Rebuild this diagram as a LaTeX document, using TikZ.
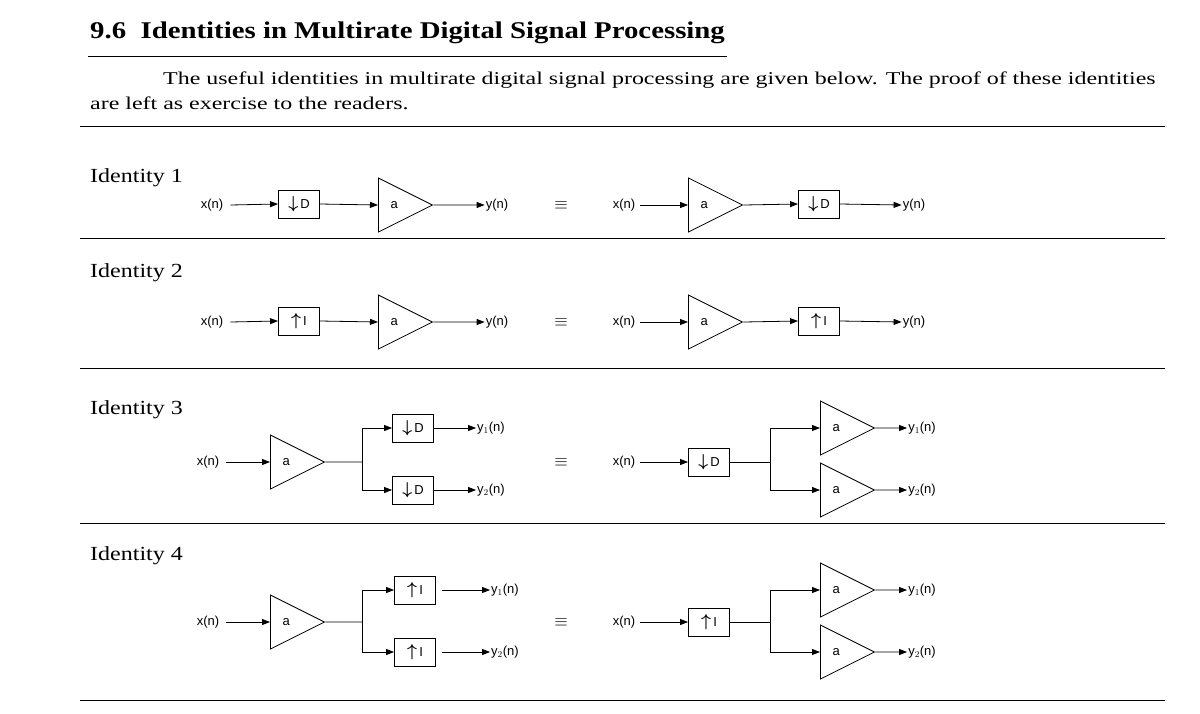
\documentclass[tikz,border=0pt]{standalone}
\usepackage{fontspec}
\setmainfont{Liberation Serif}
\setsansfont{Liberation Sans}
\usepackage{graphicx}
\usetikzlibrary{arrows.meta,shapes.geometric}
\newcommand{\dlab}{\sffamily\fontsize{13}{15}\selectfont}
\newcommand{\dn}{{\fontsize{17}{17}\selectfont$\boldsymbol{\downarrow}$}\,D}
\newcommand{\up}{{\fontsize{17}{17}\selectfont$\boldsymbol{\uparrow}$}\,I}
\usepackage{amsmath,bm}
\begin{document}
\begin{tikzpicture}[x=1pt,y=-1pt,
  blk/.style={draw,line width=0.9pt,minimum width=41,minimum height=28,inner sep=0,font=\dlab},
  amp/.style={draw,line width=0.8pt,isosceles triangle,isosceles triangle stretches,minimum width=54,minimum height=54,inner sep=0,anchor=west,font=\dlab},
  sig/.style={line width=0.8pt,-{Triangle[length=8pt,width=6pt]}},
  wire/.style={line width=0.8pt},
  lab/.style={font=\dlab,inner sep=1pt},
  idt/.style={font=\fontsize{20}{22}\selectfont,anchor=west,inner sep=0},
  rule/.style={line width=0.9pt},
  eqv/.style={font=\fontsize{16}{16}\selectfont}]
\useasboundingbox (0,0) rectangle (1200,713);
\node[anchor=west,inner sep=0,font=\fontsize{24}{26}\selectfont\bfseries] (title) at (90,33) {\scalebox{1.2}[1]{9.6\ \ Identities in Multirate Digital Signal Processing}};
\draw[rule] (88,56) -- (727,56);
\node[anchor=west,inner sep=0,font=\fontsize{18}{20}\selectfont] (p1) at (163,80) {\scalebox{1.33}[1]{The useful identities in multirate digital signal processing are given below. The proof of these identities}};
\node[anchor=west,inner sep=0,font=\fontsize{18}{20}\selectfont] (p2) at (90,103) {\scalebox{1.33}[1]{are left as exercise to the readers.}};
\draw[rule] (80,126) -- (1165,126);
\draw[rule] (80,238) -- (1165,238);
\draw[rule] (80,368) -- (1165,368);
\draw[rule] (80,523) -- (1165,523);
\draw[rule] (80,700) -- (1165,700);
\node[idt] (i1) at (90,178) {\scalebox{1.2}[1]{Identity 1}};
\node[idt] (i2) at (90,273) {\scalebox{1.2}[1]{Identity 2}};
\node[idt] (i3) at (90,410) {\scalebox{1.2}[1]{Identity 3}};
\node[idt] (i4) at (90,556) {\scalebox{1.2}[1]{Identity 4}};
% Identity 1
\node[lab] (x1) at (212,205) {x(n)};
\node[blk] (b1) at (299,204) {\dn};
\node[amp] (a1) at (378,205) {a};
\node[lab] (y1) at (497,205) {y(n)};
\draw[sig] (x1.east)++(6,0) -- (b1.west);
\draw[sig] (b1.east) -- (a1.west);
\draw[sig] (a1.apex) -- (y1.west);
\node[eqv] (e1) at (561,205) {$\equiv$};
\node[lab] (x1r) at (624,205) {x(n)};
\node[amp] (a1r) at (688,205) {a};
\node[blk] (b1r) at (819,204) {\dn};
\node[lab] (y1r) at (914,205) {y(n)};
\draw[sig] (x1r.east)++(4,0) -- (a1r.west);
\draw[sig] (a1r.apex) -- (b1r.west);
\draw[sig] (b1r.east) -- (y1r.west);
% Identity 2
\node[lab] (x2) at (212,322) {x(n)};
\node[blk] (b2) at (299,321) {\up};
\node[amp] (a2) at (378,322) {a};
\node[lab] (y2) at (497,322) {y(n)};
\draw[sig] (x2.east)++(6,0) -- (b2.west);
\draw[sig] (b2.east) -- (a2.west);
\draw[sig] (a2.apex) -- (y2.west);
\node[eqv] (e2) at (561,322) {$\equiv$};
\node[lab] (x2r) at (624,322) {x(n)};
\node[amp] (a2r) at (688,322) {a};
\node[blk] (b2r) at (819,321) {\up};
\node[lab] (y2r) at (914,322) {y(n)};
\draw[sig] (x2r.east)++(4,0) -- (a2r.west);
\draw[sig] (a2r.apex) -- (b2r.west);
\draw[sig] (b2r.east) -- (y2r.west);
% Identity 3
\node[lab] (x3) at (208,462) {x(n)};
\node[amp] (a3) at (270,462) {a};
\coordinate (br3) at (362,462);
\node[blk] (b3u) at (413,428) {\dn};
\node[blk] (b3d) at (413,490) {\dn};
\node[lab] (y3u) at (491,428) {y$_1$(n)};
\node[lab] (y3d) at (491,490) {y$_2$(n)};
\draw[sig] (x3.east)++(6,0) -- (a3.west);
\draw[wire] (a3.apex) -- (br3);
\draw[sig] (br3) |- (b3u.west);
\draw[sig] (br3) |- (b3d.west);
\draw[sig] (b3u.east) -- (y3u.west);
\draw[sig] (b3d.east) -- (y3d.west);
\node[eqv] (e3) at (561,462) {$\equiv$};
\node[lab] (x3r) at (624,462) {x(n)};
\node[blk] (b3r) at (709,462) {\dn};
\coordinate (br3r) at (770,462);
\node[amp] (a3u) at (820,428) {a};
\node[amp] (a3d) at (820,490) {a};
\node[lab] (y3ur) at (922,428) {y$_1$(n)};
\node[lab] (y3dr) at (922,490) {y$_2$(n)};
\draw[sig] (x3r.east)++(4,0) -- (b3r.west);
\draw[wire] (b3r.east) -- (br3r);
\draw[sig] (br3r) |- (a3u.west);
\draw[sig] (br3r) |- (a3d.west);
\draw[sig] (a3u.apex) -- (y3ur.west);
\draw[sig] (a3d.apex) -- (y3dr.west);
% Identity 4
\node[lab] (x4) at (208,622) {x(n)};
\node[amp] (a4) at (270,622) {a};
\coordinate (br4) at (362,622);
\node[blk] (b4u) at (415,590) {\up};
\node[blk] (b4d) at (415,652) {\up};
\node[lab] (y4u) at (505,590) {y$_1$(n)};
\node[lab] (y4d) at (505,652) {y$_2$(n)};
\draw[sig] (x4.east)++(6,0) -- (a4.west);
\draw[wire] (a4.apex) -- (br4);
\draw[sig] (br4) |- (b4u.west);
\draw[sig] (br4) |- (b4d.west);
\draw[sig] (b4u.east)++(6,0) -- (y4u.west);
\draw[sig] (b4d.east)++(6,0) -- (y4d.west);
\node[eqv] (e4) at (561,622) {$\equiv$};
\node[lab] (x4r) at (624,622) {x(n)};
\node[blk] (b4r) at (709,622) {\up};
\coordinate (br4r) at (770,622);
\node[amp] (a4u) at (820,590) {a};
\node[amp] (a4d) at (820,652) {a};
\node[lab] (y4ur) at (922,590) {y$_1$(n)};
\node[lab] (y4dr) at (922,652) {y$_2$(n)};
\draw[sig] (x4r.east)++(4,0) -- (b4r.west);
\draw[wire] (b4r.east) -- (br4r);
\draw[sig] (br4r) |- (a4u.west);
\draw[sig] (br4r) |- (a4d.west);
\draw[sig] (a4u.apex) -- (y4ur.west);
\draw[sig] (a4d.apex) -- (y4dr.west);
\end{tikzpicture}
\end{document}
